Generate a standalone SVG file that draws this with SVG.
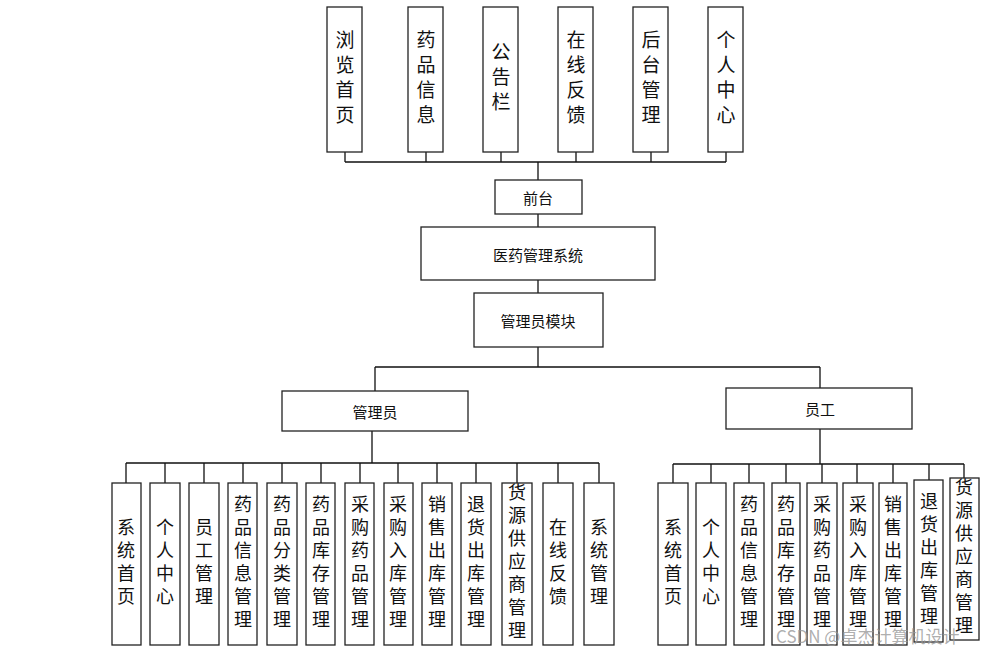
<svg xmlns="http://www.w3.org/2000/svg" width="1003" height="654" viewBox="0 0 1003 654">
<style>
rect{fill:#fff;stroke:#222;stroke-width:1.3}
text{font-family:"Noto Sans CJK SC","Liberation Sans",sans-serif;fill:#111}
.h{font-size:15px;text-anchor:middle;dominant-baseline:central}
.v{font-size:18px;writing-mode:vertical-rl;text-anchor:middle;letter-spacing:5px;glyph-orientation-vertical:0}
.t{font-size:19px;letter-spacing:6px}
#c path{fill:none;stroke:#111;stroke-width:1.3}
</style>
<rect x="0" y="0" width="1003" height="654" style="fill:#fff;stroke:none"/>
<g id="c">
<path d="M345 152V162M426 152V162M501 152V162M576 152V162M651 152V162M726 152V162M345 162H726M538 162V180M538 214V227M538 280V293M538 347V367M375 367H820M375 367V391M820 367V388"/>
<path d="M372 431V463M126 463H599M126 463V483M165 463V483M204 463V483M243 463V483M282 463V483M321 463V483M360 463V483M398 463V483M437 463V483M476 463V483M517 463V483M558 463V483M599 463V483"/>
<path d="M820 429V464M673 464H964M673 464V483M711 464V483M749 464V483M786 464V483M822 464V483M857 464V483M893 464V483M929 464V480M964 464V478"/>
</g>
<g id="top">
<g id="t1"><rect x="327" y="7" width="35" height="145"/><text class="v t" x="345" y="80">浏览首页</text></g>
<g id="t2"><rect x="408" y="7" width="35" height="145"/><text class="v t" x="426" y="80">药品信息</text></g>
<g id="t3"><rect x="483" y="7" width="35" height="145"/><text class="v t" x="501" y="80">公告栏</text></g>
<g id="t4"><rect x="558" y="7" width="35" height="145"/><text class="v t" x="576" y="80">在线反馈</text></g>
<g id="t5"><rect x="633" y="7" width="35" height="145"/><text class="v t" x="651" y="80">后台管理</text></g>
<g id="t6"><rect x="708" y="7" width="35" height="145"/><text class="v t" x="726" y="80">个人中心</text></g>
</g>
<g id="qt"><rect x="495" y="180" width="87" height="34"/><text class="h" x="538" y="197">前台</text></g>
<g id="sys"><rect x="421" y="227" width="234" height="53"/><text class="h" x="538" y="254">医药管理系统</text></g>
<g id="mod"><rect x="474" y="293" width="129" height="54"/><text class="h" x="538" y="320">管理员模块</text></g>
<g id="admin"><rect x="282" y="391" width="186" height="40"/><text class="h" x="375" y="411">管理员</text></g>
<g id="staff"><rect x="726" y="388" width="186" height="41"/><text class="h" x="820" y="408">员工</text></g>
<g id="a">
<g id="a1"><rect x="112" y="483" width="29" height="162"/><text class="v" x="126" y="564">系统首页</text></g>
<g id="a2"><rect x="150" y="483" width="30" height="162"/><text class="v" x="165" y="564">个人中心</text></g>
<g id="a3"><rect x="189" y="483" width="30" height="162"/><text class="v" x="204" y="564">员工管理</text></g>
<g id="a4"><rect x="228" y="483" width="29" height="162"/><text class="v" x="243" y="564">药品信息管理</text></g>
<g id="a5"><rect x="267" y="483" width="30" height="162"/><text class="v" x="282" y="564">药品分类管理</text></g>
<g id="a6"><rect x="306" y="483" width="29" height="162"/><text class="v" x="321" y="564">药品库存管理</text></g>
<g id="a7"><rect x="345" y="483" width="29" height="162"/><text class="v" x="360" y="564">采购药品管理</text></g>
<g id="a8"><rect x="384" y="483" width="29" height="162"/><text class="v" x="398" y="564">采购入库管理</text></g>
<g id="a9"><rect x="422" y="483" width="30" height="162"/><text class="v" x="437" y="564">销售出库管理</text></g>
<g id="a10"><rect x="461" y="483" width="30" height="162"/><text class="v" x="476" y="564">退货出库管理</text></g>
<g id="a11"><rect x="502" y="483" width="30" height="162"/><text class="v" x="517" y="564">货源供应商管理</text></g>
<g id="a12"><rect x="543" y="483" width="30" height="162"/><text class="v" x="558" y="564">在线反馈</text></g>
<g id="a13"><rect x="584" y="483" width="30" height="162"/><text class="v" x="599" y="564">系统管理</text></g>
</g>
<g id="s">
<g id="s1"><rect x="658" y="483" width="30" height="162"/><text class="v" x="673" y="564">系统首页</text></g>
<g id="s2"><rect x="696" y="483" width="30" height="162"/><text class="v" x="711" y="564">个人中心</text></g>
<g id="s3"><rect x="734" y="483" width="30" height="162"/><text class="v" x="749" y="564">药品信息管理</text></g>
<g id="s4"><rect x="772" y="483" width="28" height="162"/><text class="v" x="786" y="564">药品库存管理</text></g>
<g id="s5"><rect x="807" y="483" width="30" height="162"/><text class="v" x="822" y="564">采购药品管理</text></g>
<g id="s6"><rect x="843" y="483" width="30" height="162"/><text class="v" x="858" y="564">采购入库管理</text></g>
<g id="s7"><rect x="879" y="483" width="28" height="162"/><text class="v" x="893" y="564">销售出库管理</text></g>
<g id="s8"><rect x="914" y="480" width="29" height="162"/><text class="v" x="929" y="561">退货出库管理</text></g>
<g id="s9"><rect x="950" y="478" width="29" height="162"/><text class="v" x="964" y="559">货源供应商管理</text></g>
</g>
<text x="776" y="643" style="font-size:17px;fill:#999;fill-opacity:0.8">CSDN @卓杰计算机设计</text>
</svg>
